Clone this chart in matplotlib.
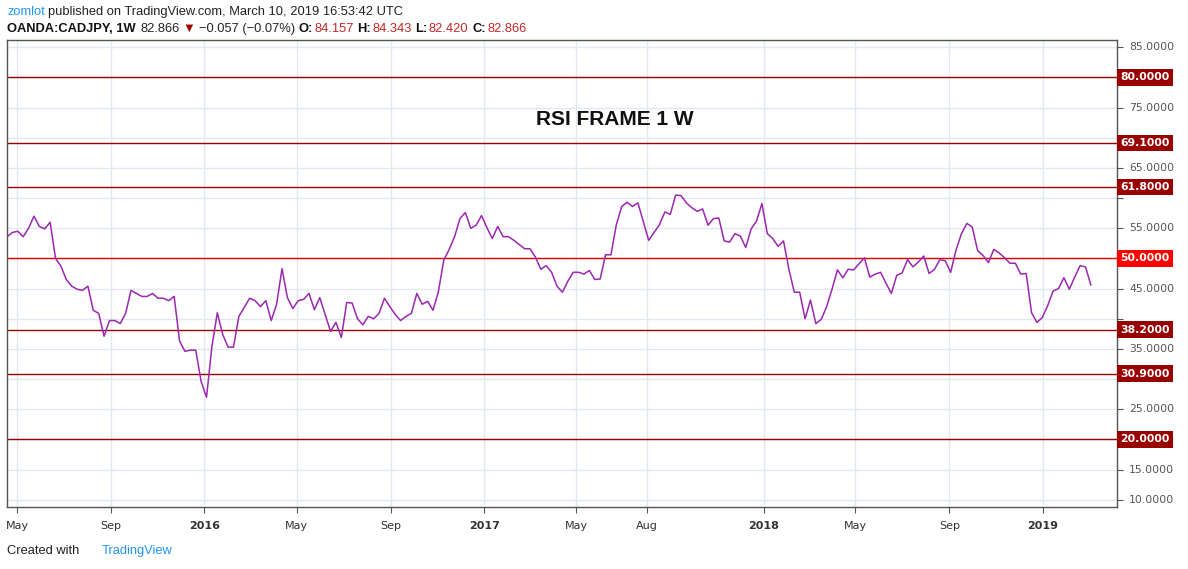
import numpy as np
import pandas as pd
import matplotlib.pyplot as plt
import matplotlib.dates as mdates

# weekly RSI values (Apr 2015 - Mar 2019)
rsi = [53.6, 54.3, 54.5, 53.6, 55.0, 57.0, 55.3, 54.9, 56.0, 50.0,
       48.7, 46.5, 45.4, 44.9, 44.7, 45.4, 41.4, 40.9, 37.1, 39.7,
       39.7, 39.2, 40.9, 44.7, 44.2, 43.7, 43.7, 44.2, 43.4, 43.4,
       43.0, 43.7, 36.3, 34.6, 34.8, 34.8, 29.6, 27.0, 35.4, 41.0,
       37.4, 35.3, 35.3, 40.4, 41.9, 43.4, 43.0, 42.0, 43.0, 39.7,
       42.4, 48.3, 43.5, 41.7, 43.0, 43.2, 44.2, 41.5, 43.5, 40.7,
       37.9, 39.4, 36.9, 42.7, 42.6, 40.0, 39.0, 40.4, 40.0, 40.9,
       43.4, 42.0, 40.7, 39.7, 40.4, 40.9, 44.2, 42.4, 42.9, 41.4,
       44.5, 49.7, 51.5, 53.6, 56.6, 57.6, 55.0, 55.5, 57.1, 55.1,
       53.3, 55.3, 53.6, 53.6, 53.0, 52.3, 51.6, 51.6, 50.2, 48.2,
       48.8, 47.7, 45.4, 44.4, 46.2, 47.7, 47.7, 47.4, 48.0,
       46.5, 46.6, 50.6, 50.6, 55.6, 58.6, 59.3, 58.6, 59.2, 56.1,
       53.0, 54.3, 55.6, 57.7, 57.3, 60.5, 60.4, 59.2, 58.4, 57.8,
       58.2, 55.5, 56.6, 56.7, 52.9, 52.7, 54.1, 53.7, 51.8, 54.9,
       56.2, 59.1, 54.1, 53.3, 52.0, 52.9, 48.2, 44.4, 44.4, 40.0,
       43.1, 39.2, 39.9, 42.0, 44.9, 48.1, 46.8, 48.2, 48.1, 49.1,
       50.1, 46.9, 47.4, 47.7, 45.9, 44.2, 47.2, 47.6, 49.8, 48.6,
       49.4, 50.4, 47.5, 48.2, 49.8, 49.6, 47.7, 51.4, 54.1, 55.8,
       55.2, 51.3, 50.5, 49.3, 51.5, 50.9, 50.1, 49.2, 49.2, 47.4,
       47.5, 41.0, 39.4, 40.2, 42.2, 44.6, 45.0, 46.8, 44.9, 46.9,
       48.8, 48.6, 45.6]
levels = [80.0, 69.1, 61.8, 50.0, 38.2, 30.9, 20.0]
yticks = [10, 15, 20, 25, 30, 35, 40, 45, 50, 55, 60, 65, 70, 75, 80, 85]
tick_dates = ["2015-05-01", "2015-09-01", "2016-01-01", "2016-05-01", "2016-09-01",
              "2017-01-01", "2017-05-01", "2017-08-01", "2018-01-01", "2018-05-01",
              "2018-09-01", "2019-01-01"]
tick_labels = ["May", "Sep", "2016", "May", "Sep", "2017", "May", "Aug",
               "2018", "May", "Sep", "2019"]

dates = pd.date_range("2015-04-18", periods=len(rsi), freq="7D")
xnum = mdates.date2num(dates)
xnum = xnum[0] + (xnum - xnum[0]) * 1.007

W, H = 1188, 569
fig = plt.figure(figsize=(W / 100, H / 100), dpi=100)
ax = fig.add_axes([7 / W, 1 - 507 / H, 1110 / W, 467 / H])

ticks = [mdates.date2num(pd.Timestamp(d)) for d in tick_dates]
for t in ticks:
    ax.axvline(t, color="#e1e8ef", lw=1, zorder=0)
for v in yticks:
    ax.axhline(v, color="#e1e8ef", lw=1, zorder=0)
for lv in levels:
    ax.axhline(lv, color="#e00000" if lv == 50 else "#990000", lw=1, zorder=1)

ax.plot(xnum, rsi, color="#9c27b0", lw=1.1, zorder=2)

ax.set_xlim(mdates.date2num(pd.Timestamp("2015-04-18")), mdates.date2num(pd.Timestamp("2019-04-08")))
ax.set_ylim(8.8, 86.2)
ax.set_yticks(yticks)
ax.set_yticklabels([])
ax.yaxis.tick_right()
ax.tick_params(axis="y", length=4, color="#555555")
ax.set_xticks(ticks)
ax.set_xticklabels(tick_labels, fontsize=8, color="#333333")
for lab, txt in zip(ax.get_xticklabels(), tick_labels):
    if txt.isdigit():
        lab.set_fontweight("bold")
ax.tick_params(axis="x", length=4, color="#555555", pad=6)
for s in ax.spines.values():
    s.set_color("#555555")
    s.set_linewidth(1)

# gray price labels, skipping the ones hidden behind the level boxes
for v in yticks:
    if any(abs(v - lv) < 2.2 for lv in levels):
        continue
    ax.text(1.0 + 12 / 1110, v, "%.4f" % v, transform=ax.get_yaxis_transform(),
            fontsize=7.8, color="#555555", va="center", ha="left")
for lv in levels:
    ax.text(1.0 + 3 / 1110, lv, "%.4f" % lv, transform=ax.get_yaxis_transform(),
            fontsize=7.8, color="white", fontweight="bold", va="center", ha="left",
            bbox=dict(boxstyle="square,pad=0.3",
                      fc="#ff0000" if lv == 50 else "#990000", ec="none"))

ax.text(mdates.date2num(pd.Timestamp("2017-06-20")), 73, "RSI FRAME 1 W",
        fontsize=15, fontweight="bold", ha="center", va="center", color="#111111",
        family="Liberation Sans")

renderer = fig.canvas.get_renderer()


def chain(parts, x, y):
    # put text pieces one after another on a line
    for txt, color, weight, gap in parts:
        t = fig.text(x / W, 1 - y / H, txt, color=color, fontsize=9.3,
                     fontweight=weight, va="center", family="Liberation Sans")
        x = t.get_window_extent(renderer).x1 + gap


chain([("zomlot", "#2196f3", "normal", 3),
       ("published on TradingView.com, March 10, 2019 16:53:42 UTC", "#222222", "normal", 0)], 7, 12)
chain([("OANDA:CADJPY, 1W", "#111111", "bold", 5),
       ("82.866", "#222222", "normal", 3),
       ("\u25bc", "#a00000", "normal", 3),
       ("\u22120.057 (\u22120.07%)", "#222222", "normal", 4),
       ("O:", "#111111", "bold", 1), ("84.157", "#c62828", "normal", 4),
       ("H:", "#111111", "bold", 1), ("84.343", "#c62828", "normal", 4),
       ("L:", "#111111", "bold", 1), ("82.420", "#c62828", "normal", 4),
       ("C:", "#111111", "bold", 1), ("82.866", "#c62828", "normal", 0)], 7, 29)
chain([("Created with", "#222222", "normal", 22),
       ("TradingView", "#2196f3", "normal", 0)], 7, 551)

fig.savefig("out.png", dpi=100)
